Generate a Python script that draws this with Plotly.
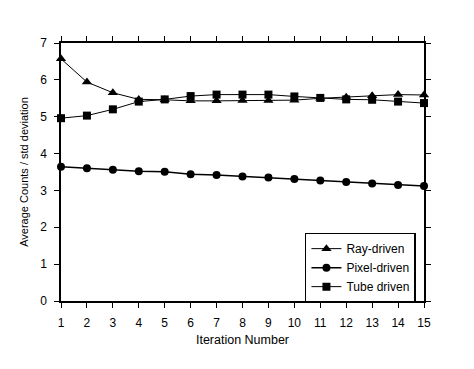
import plotly.graph_objects as go

iterations = list(range(1, 16))
ray_driven = [6.57, 5.94, 5.65, 5.47, 5.46, 5.43, 5.43, 5.44, 5.44, 5.45, 5.50, 5.53, 5.57, 5.60, 5.59]
pixel_driven = [3.64, 3.60, 3.56, 3.52, 3.51, 3.44, 3.42, 3.38, 3.35, 3.31, 3.27, 3.23, 3.19, 3.15, 3.12]
tube_driven = [4.96, 5.03, 5.20, 5.41, 5.47, 5.56, 5.60, 5.60, 5.60, 5.55, 5.51, 5.47, 5.46, 5.41, 5.37]

fig = go.Figure()
fig.add_trace(go.Scatter(x=iterations, y=ray_driven, name="Ray-driven", mode="lines+markers",
                         line=dict(color="black", width=1),
                         marker=dict(symbol="triangle-up", size=9, color="black"), cliponaxis=False))
fig.add_trace(go.Scatter(x=iterations, y=pixel_driven, name="Pixel-driven", mode="lines+markers",
                         line=dict(color="black", width=1.5),
                         marker=dict(symbol="circle", size=8, color="black"), cliponaxis=False))
fig.add_trace(go.Scatter(x=iterations, y=tube_driven, name="Tube driven", mode="lines+markers",
                         line=dict(color="black", width=1),
                         marker=dict(symbol="square", size=8, color="black"), cliponaxis=False))

fig.update_layout(
    width=466, height=361,
    margin=dict(l=53, r=50, t=35, b=68, autoexpand=False),
    paper_bgcolor="white", plot_bgcolor="white",
    font=dict(family="Liberation Sans, Arial, sans-serif", size=12, color="black"),
    showlegend=True,
    legend=dict(x=0.672, y=0.265, xanchor="left", yanchor="top",
                bordercolor="black", borderwidth=1.5, bgcolor="white",
                font=dict(size=12), tracegroupgap=0, itemwidth=30),
    xaxis=dict(range=[1, 15], tickvals=iterations, showgrid=False, zeroline=False,
               showline=True, linecolor="black", linewidth=1.5, mirror="ticks",
               ticks="outside", ticklen=5, tickcolor="black", ticklabelstandoff=5,
               title=dict(text="Iteration Number", standoff=6, font=dict(size=12.5))),
    yaxis=dict(range=[0, 7], tickvals=list(range(0, 8)), showgrid=False, zeroline=False,
               showline=True, linecolor="black", linewidth=1.5, mirror="ticks",
               ticks="outside", ticklen=5, tickcolor="black", ticklabelstandoff=5,
               title=dict(text="Average Counts / std deviation", standoff=9, font=dict(size=11))),
)

fig.write_html("out.html")
